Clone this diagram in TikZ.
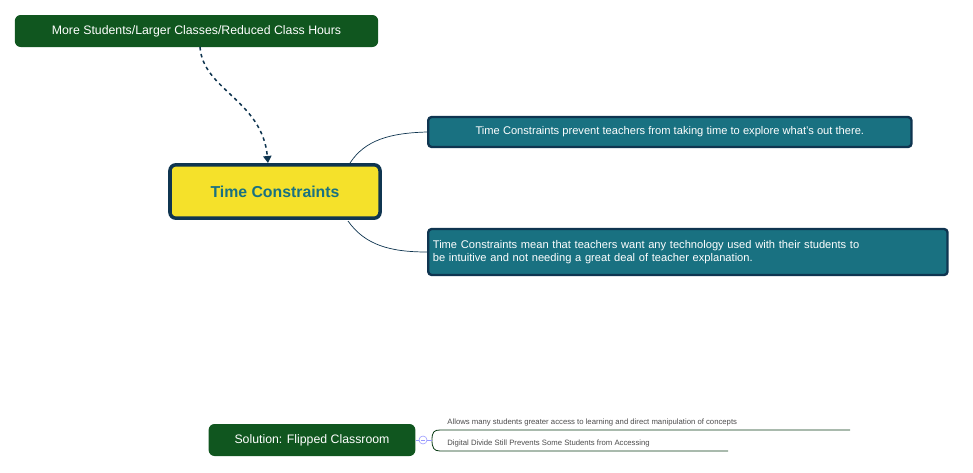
\documentclass[tikz,border=0pt]{standalone}
\usepackage{fontspec}
\setmainfont{Liberation Sans}
\usetikzlibrary{positioning,shapes,arrows.meta}
\definecolor{topicgreen}{HTML}{10561F}
\definecolor{navy}{HTML}{0F3550}
\definecolor{teal}{HTML}{197181}
\definecolor{sunny}{HTML}{F5E12A}
\tikzset{
  green box/.style={fill=topicgreen, rounded corners=5pt, text=white, font=\fontsize{10.5}{12}\selectfont},
  teal box/.style={fill=teal, draw=navy, line width=2pt, rounded corners=3pt, text=white, font=\fontsize{9.5}{11.5}\selectfont, anchor=west, align=left, inner xsep=4pt},
  leaf/.style={text=black!70, font=\fontsize{6.6}{8}\selectfont, anchor=south west, inner sep=1pt},
  branch/.style={draw=navy, line width=0.6pt},
}
\begin{document}
\begin{tikzpicture}[x=0.03cm, y=-0.03cm]
\useasboundingbox (0,0) rectangle (973,472);
% main topic
\node [fill=sunny, draw=navy, line width=3pt, rounded corners=5pt, minimum width=212\pgflinewidth, text=teal,
  font=\bfseries\fontsize{13.5}{15}\selectfont, minimum width=6.3cm, minimum height=1.6cm] (time) at (275,191.5) {Time Constraints};
\node [green box, minimum width=10.9cm, minimum height=0.96cm] (students) at (196.5,31) {More Students/Larger Classes/Reduced Class Hours};
\node [teal box, minimum width=14.5cm, minimum height=0.9cm] (explore) at (427,132) {Time Constraints prevent teachers from taking time to explore what's out there.};
\node [teal box, text width=15.3cm, minimum height=1.38cm] (intuitive) at (427,252) {Time Constraints mean that teachers want any technology used with their students to\\be intuitive and not needing a great deal of teacher explanation.};
% relationship
\coordinate (from) at (200,47);
\coordinate (to) at (268,163);
\draw [navy, line width=1.3pt, dashed, -{Triangle[length=6pt,width=7pt]}] (from) .. controls (203,90) and (262,100) .. (to);
% branches
\coordinate (b1) at (350,163);
\coordinate (b2) at (348,221);
\draw [branch] (b1) .. controls (365,140) and (390,133) .. (explore.west);
\draw [branch] (b2) .. controls (365,245) and (390,252) .. (intuitive.west);
% solution
\node [green box, minimum width=6.2cm, minimum height=0.96cm] (solution) at (312,440) {Solution: Flipped Classroom};
\coordinate (fork) at (432,440);
\node [leaf] (access) at (446,428) {Allows many students greater access to learning and direct manipulation of concepts};
\node [leaf] (divide) at (446,449) {Digital Divide Still Prevents Some Students from Accessing};
\coordinate (end1) at (850,430);
\coordinate (end2) at (728,451);
\draw [topicgreen!70!black, line width=0.7pt] (fork) .. controls (432,432) and (434,430) .. (440,430) -- (end1);
\draw [topicgreen!70!black, line width=0.7pt] (fork) .. controls (432,448) and (434,451) .. (440,451) -- (end2);
\draw [blue!40, line width=0.5pt] (solution.east) -- (fork);
\draw [blue!40, fill=white, line width=0.5pt] (423,440) circle (4);
\draw [blue!40, line width=0.5pt] (421,440) -- (425,440);
\end{tikzpicture}
\end{document}
